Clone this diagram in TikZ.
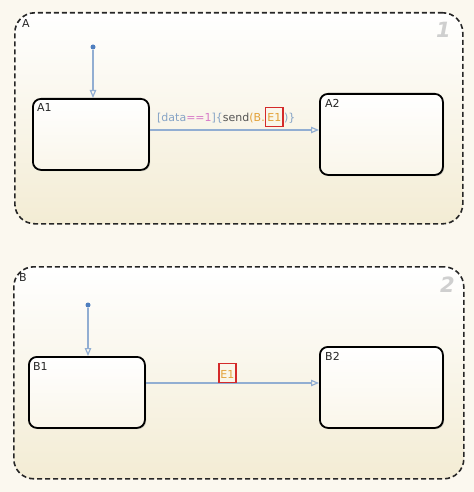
\documentclass[tikz,border=0pt]{standalone}
\usepackage{fontspec}
\setmainfont{DejaVu Sans}
\usetikzlibrary{arrows.meta,positioning,shadows}
\definecolor{chartbg}{HTML}{FBF8EF}
\definecolor{superbot}{HTML}{F3ECD4}
\definecolor{subbot}{HTML}{FAF6EA}
\definecolor{transblue}{HTML}{92AED2}
\definecolor{dotblue}{HTML}{4F7FBF}
\definecolor{evred}{HTML}{D42A2A}
\definecolor{evorange}{HTML}{E3A23A}
\definecolor{condblue}{HTML}{86A4C6}
\definecolor{condpink}{HTML}{D77BC9}
\definecolor{actgray}{HTML}{555555}
\definecolor{ordgray}{HTML}{CFCFCF}
\tikzset{
  superstate/.style={draw=black!85, line width=1.6bp, dash pattern=on 5bp off 3bp,
    rounded corners=20bp, top color=white, bottom color=superbot,
    anchor=north west, inner sep=0pt},
  substate/.style={draw=black, line width=1.8bp, rounded corners=8bp,
    top color=white, bottom color=subbot, anchor=north west, inner sep=0pt,
    drop shadow={shadow xshift=1.2bp, shadow yshift=-1.2bp, opacity=0.35}},
  statename/.style={anchor=north west, inner sep=0pt, text=black!85,
    font=\fontsize{11bp}{13bp}\selectfont},
  ordnum/.style={anchor=north east, inner sep=0pt, text=ordgray,
    font=\fontsize{21bp}{23bp}\selectfont\bfseries\itshape},
  trans/.style={draw=transblue, line width=1.2bp,
    -{Triangle[open, length=8bp, width=6.5bp]}},
  initdot/.style={circle, fill=dotblue, inner sep=0pt, minimum size=5bp},
  tlabel/.style={inner sep=0pt, font=\fontsize{11bp}{13bp}\selectfont},
  evbox/.style={draw=evred, line width=1.5bp, inner xsep=1.7bp, inner ysep=3.5bp,
    text height=11bp, text depth=1bp, text=evorange,
    font=\fontsize{11bp}{13bp}\selectfont}
}
\begin{document}
\begin{tikzpicture}[x=1bp, y=-1bp]
  \fill[chartbg] (0,0) rectangle (474,492);
  \useasboundingbox (0,0) rectangle (474,492);
  % parallel state A
  \node[superstate, minimum width=448bp, minimum height=211bp] (A) at (14,12) {};
  \node[statename] (Aname) at (22,19) {A};
  \node[ordnum] (Aord) at (451,22) {1};
  \node[substate, minimum width=116bp, minimum height=71bp] (A1) at (32,98) {};
  \node[substate, minimum width=123bp, minimum height=81bp] (A2) at (319,93) {};
  \node[statename] at ([shift={(5,5)}]A1.north west) {A1};
  \node[statename] at ([shift={(6,6)}]A2.north west) {A2};
  \node[initdot] (initA) at (93,47) {};
  \draw[trans] (initA) -- (initA |- A1.north);
  \coordinate (tA) at (0,130);
  \draw[trans] (A1.east |- tA) -- (A2.west |- tA);
  \node[tlabel, anchor=base west] (condA) at (157,122)
    {\textcolor{condblue}{[data}\textcolor{condpink}{==1}\textcolor{condblue}{]\{}\textcolor{actgray}{send}\textcolor{evorange}{(B.}};
  \node[evbox, base right=0pt of condA] (evA) {E1};
  \node[tlabel, base right=0pt of evA] (endA) {\textcolor{condblue}{)\}}};
  % parallel state B
  \node[superstate, minimum width=450bp, minimum height=212bp] (B) at (13,266) {};
  \node[statename] (Bname) at (19,273) {B};
  \node[ordnum] (Bord) at (455,277) {2};
  \node[substate, minimum width=116bp, minimum height=71bp] (B1) at (28,356) {};
  \node[substate, minimum width=123bp, minimum height=81bp] (B2) at (319,346) {};
  \node[statename] at ([shift={(5,6)}]B1.north west) {B1};
  \node[statename] at ([shift={(6,6)}]B2.north west) {B2};
  \node[initdot] (initB) at (88,305) {};
  \draw[trans] (initB) -- (initB |- B1.north);
  \coordinate (tB) at (0,383);
  \draw[trans] (B1.east |- tB) -- (B2.west |- tB);
  \node[evbox, anchor=base west] (evB) at (218,378) {E1};
\end{tikzpicture}
\end{document}
